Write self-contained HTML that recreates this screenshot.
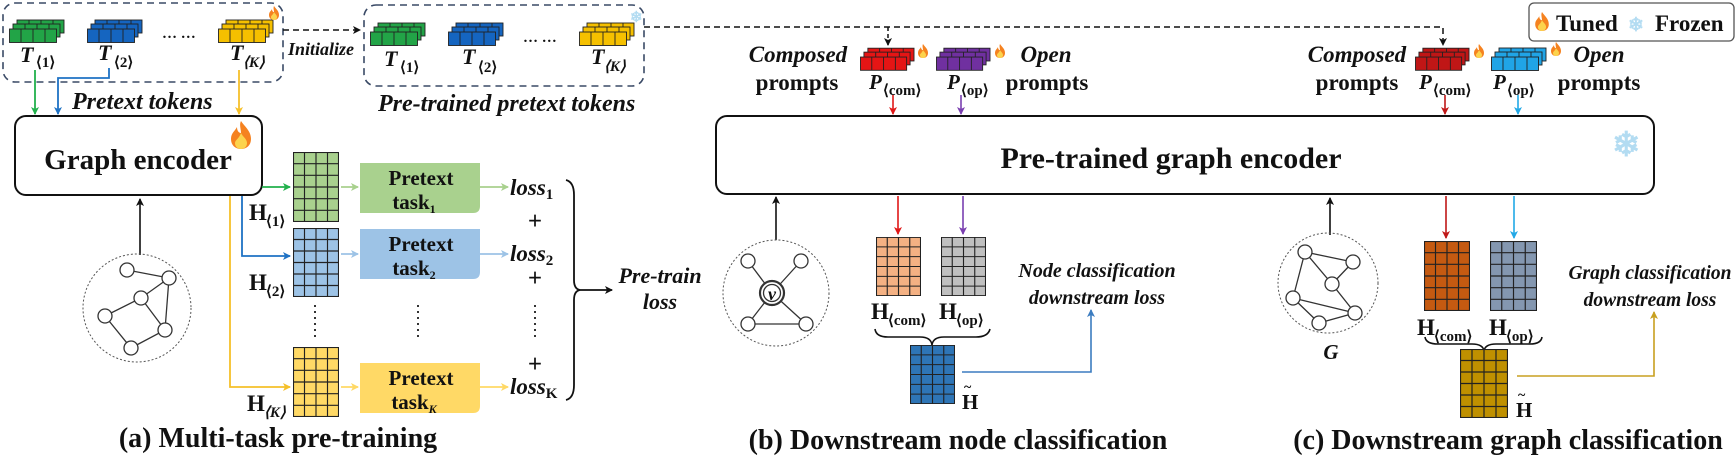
<!DOCTYPE html>
<html><head><meta charset="utf-8"><style>
html,body{margin:0;padding:0;background:#fff;}
svg{display:block;}
text{font-family:"Liberation Serif",serif;font-weight:bold;fill:#111;}
.it{font-style:italic;}
</style></head><body>
<svg width="1736" height="460" viewBox="0 0 1736 460" xmlns="http://www.w3.org/2000/svg">
<defs>
<symbol id="grid" viewBox="0 0 48 72" preserveAspectRatio="none">
<path d="M12 0V72M24 0V72M36 0V72M0 12H48M0 24H48M0 36H48M0 48H48M0 60H48" stroke="#222" stroke-width="1.2" fill="none"/>
<rect x="0.5" y="0.5" width="47" height="71" fill="none" stroke="#222" stroke-width="1.2"/>
</symbol>
<symbol id="tok" viewBox="0 0 56 24">
<g stroke="#222" stroke-width="0.9">
<rect x="8" y="1" width="47" height="13"/><path d="M20 1V14M32 1V14M44 1V14" fill="none"/>
<rect x="4" y="5" width="47" height="13"/><path d="M16 5V18M28 5V18M40 5V18" fill="none"/>
<rect x="0.5" y="10" width="47" height="13.5"/><path d="M12 10V23.5M24 10V23.5M36 10V23.5" fill="none"/>
</g>
</symbol>
<symbol id="flame" viewBox="0 0 10 14">
<path d="M5 0C7 3 10 5 10 9C10 12 8 14 5 14C2 14 0 12 0 9C0 6 2 5 3 3C3 5 4 6 5 6C5 4 4 2 5 0Z" fill="#f58220"/>
<path d="M5 6C6 8 8 9 8 11C8 13 6.5 14 5 14C3.5 14 2 13 2 11C2 9.5 4 9 5 6Z" fill="#fcd34d"/>
</symbol>
<marker id="ak" markerWidth="8" markerHeight="8" refX="7" refY="4" orient="auto" markerUnits="userSpaceOnUse"><path d="M0 0L8 4L0 8L2 4Z" fill="#111"/></marker>
<marker id="ag" markerWidth="8" markerHeight="8" refX="7" refY="4" orient="auto" markerUnits="userSpaceOnUse"><path d="M0 0L8 4L0 8L2 4Z" fill="#22b14c"/></marker>
<marker id="ab" markerWidth="8" markerHeight="8" refX="7" refY="4" orient="auto" markerUnits="userSpaceOnUse"><path d="M0 0L8 4L0 8L2 4Z" fill="#1f72c4"/></marker>
<marker id="ay" markerWidth="8" markerHeight="8" refX="7" refY="4" orient="auto" markerUnits="userSpaceOnUse"><path d="M0 0L8 4L0 8L2 4Z" fill="#f5c02a"/></marker>
<marker id="alg" markerWidth="8" markerHeight="8" refX="7" refY="4" orient="auto" markerUnits="userSpaceOnUse"><path d="M0 0L8 4L0 8L2 4Z" fill="#a9d18e"/></marker>
<marker id="alb" markerWidth="8" markerHeight="8" refX="7" refY="4" orient="auto" markerUnits="userSpaceOnUse"><path d="M0 0L8 4L0 8L2 4Z" fill="#9dc3e6"/></marker>
<marker id="aly" markerWidth="8" markerHeight="8" refX="7" refY="4" orient="auto" markerUnits="userSpaceOnUse"><path d="M0 0L8 4L0 8L2 4Z" fill="#ffd966"/></marker>
<marker id="ar" markerWidth="8" markerHeight="8" refX="7" refY="4" orient="auto" markerUnits="userSpaceOnUse"><path d="M0 0L8 4L0 8L2 4Z" fill="#e01818"/></marker>
<marker id="ap" markerWidth="8" markerHeight="8" refX="7" refY="4" orient="auto" markerUnits="userSpaceOnUse"><path d="M0 0L8 4L0 8L2 4Z" fill="#7a3fb0"/></marker>
<marker id="adr" markerWidth="8" markerHeight="8" refX="7" refY="4" orient="auto" markerUnits="userSpaceOnUse"><path d="M0 0L8 4L0 8L2 4Z" fill="#c01818"/></marker>
<marker id="ac" markerWidth="8" markerHeight="8" refX="7" refY="4" orient="auto" markerUnits="userSpaceOnUse"><path d="M0 0L8 4L0 8L2 4Z" fill="#22a8e6"/></marker>
<marker id="anb" markerWidth="8" markerHeight="8" refX="7" refY="4" orient="auto" markerUnits="userSpaceOnUse"><path d="M0 0L8 4L0 8L2 4Z" fill="#3b7cc0"/></marker>
<marker id="agd" markerWidth="8" markerHeight="8" refX="7" refY="4" orient="auto" markerUnits="userSpaceOnUse"><path d="M0 0L8 4L0 8L2 4Z" fill="#c8a020"/></marker>
</defs>

<!-- ===== (a) ===== -->
<rect x="3" y="3" width="280" height="79" rx="12" fill="none" stroke="#3a4a66" stroke-width="1.6" stroke-dasharray="7,5"/>
<use href="#tok" x="9" y="19" width="56" height="24" fill="#22a447"/>
<use href="#tok" x="87" y="19" width="56" height="24" fill="#1565c0"/>
<use href="#tok" x="217" y="19" width="58" height="24" fill="#f5c000"/>
<text x="162" y="38" font-size="15">… …</text>
<use href="#flame" x="269" y="6" width="10" height="14"/>
<text x="20" y="62" font-size="22" class="it">T</text><text x="36" y="67" font-size="15">⟨1⟩</text>
<text x="98" y="60" font-size="22" class="it">T</text><text x="114" y="67" font-size="15">⟨2⟩</text>
<text x="230" y="60" font-size="22" class="it">T</text><text x="243" y="67" font-size="15" class="it">⟨K⟩</text>
<path d="M283 30H360" stroke="#111" stroke-width="1.5" stroke-dasharray="6,4" fill="none" marker-end="url(#ak)"/>
<text x="288" y="55" font-size="18" class="it">Initialize</text>
<path d="M35 70V114" stroke="#22b14c" stroke-width="1.8" marker-end="url(#ag)"/>
<path d="M109 68V78H58V114" stroke="#1f72c4" stroke-width="1.8" fill="none" marker-end="url(#ab)"/>
<path d="M239 70V114" stroke="#f5c02a" stroke-width="1.8" marker-end="url(#ay)"/>
<text x="72" y="109" font-size="24" class="it">Pretext tokens</text>

<rect x="15" y="116" width="247" height="79" rx="11" fill="#fff" stroke="#111" stroke-width="2"/>
<text x="138" y="169" font-size="29" text-anchor="middle">Graph encoder</text>
<use href="#flame" x="230" y="121" width="22" height="28"/>
<path d="M140 255V199" stroke="#111" stroke-width="1.6" marker-end="url(#ak)"/>
<circle cx="137" cy="308" r="54" fill="none" stroke="#555" stroke-width="1" stroke-dasharray="2,2"/>
<g stroke="#333" stroke-width="1.3" fill="#fff">
<path d="M127 270L169 278L165 330L131 348L105 316L141 298L169 278M141 298L165 330M127 270" fill="none"/>
<circle cx="127" cy="270" r="7"/><circle cx="169" cy="278" r="7"/><circle cx="141" cy="298" r="7"/>
<circle cx="105" cy="316" r="7"/><circle cx="165" cy="330" r="7"/><circle cx="131" cy="348" r="7"/>
</g>

<path d="M262 187H290" stroke="#22b14c" stroke-width="1.8" marker-end="url(#ag)"/>
<path d="M242 196V256H290" stroke="#1f72c4" stroke-width="1.8" fill="none" marker-end="url(#ab)"/>
<path d="M230 196V387H290" stroke="#f5c02a" stroke-width="1.8" fill="none" marker-end="url(#ay)"/>

<rect x="293" y="152" width="46" height="70" fill="#a9d18e"/><use href="#grid" x="293" y="152" width="46" height="70"/>
<rect x="293" y="228" width="46" height="69" fill="#9dc3e6"/><use href="#grid" x="293" y="228" width="46" height="69"/>
<rect x="293" y="347" width="46" height="70" fill="#ffd966"/><use href="#grid" x="293" y="347" width="46" height="70"/>
<path d="M315 305V338M418 305V338M535 305V338" stroke="#333" stroke-width="2" stroke-dasharray="2,4"/>
<text x="249" y="220" font-size="23">H</text><text x="266" y="226" font-size="15">⟨1⟩</text>
<text x="249" y="290" font-size="23">H</text><text x="266" y="296" font-size="15">⟨2⟩</text>
<text x="247" y="411" font-size="23">H</text><text x="264" y="417" font-size="15" class="it">⟨K⟩</text>

<path d="M341 187H358" stroke="#a9d18e" stroke-width="1.8" marker-end="url(#alg)"/>
<path d="M341 254H358" stroke="#9dc3e6" stroke-width="1.8" marker-end="url(#alb)"/>
<path d="M341 387H358" stroke="#ffd966" stroke-width="1.8" marker-end="url(#aly)"/>
<path d="M360 163H480V206Q480 213 473 213H360Z" fill="#a9d18e"/>
<path d="M360 229H480V272Q480 279 473 279H360Z" fill="#9dc3e6"/>
<path d="M360 363H480V406Q480 413 473 413H360Z" fill="#ffd966"/>
<text x="421" y="185" font-size="21" text-anchor="middle">Pretext</text><text x="414" y="209" font-size="21" text-anchor="middle">task<tspan font-size="12" dy="4">1</tspan></text>
<text x="421" y="251" font-size="21" text-anchor="middle">Pretext</text><text x="414" y="275" font-size="21" text-anchor="middle">task<tspan font-size="12" dy="4">2</tspan></text>
<text x="421" y="385" font-size="21" text-anchor="middle">Pretext</text><text x="414" y="409" font-size="21" text-anchor="middle">task<tspan font-size="12" dy="4" class="it">K</tspan></text>
<path d="M480 187H508" stroke="#a9d18e" stroke-width="1.8" marker-end="url(#alg)"/>
<path d="M480 254H508" stroke="#9dc3e6" stroke-width="1.8" marker-end="url(#alb)"/>
<path d="M480 387H508" stroke="#ffd966" stroke-width="1.8" marker-end="url(#aly)"/>
<text x="510" y="195" font-size="23" class="it">loss<tspan font-size="15" dy="4" font-style="normal">1</tspan></text>
<text x="510" y="261" font-size="23" class="it">loss<tspan font-size="15" dy="4" font-style="normal">2</tspan></text>
<text x="510" y="394" font-size="23" class="it">loss<tspan font-size="15" dy="4" font-style="normal">K</tspan></text>
<text x="535" y="229" font-size="25" text-anchor="middle" font-weight="normal">+</text>
<text x="535" y="286" font-size="25" text-anchor="middle" font-weight="normal">+</text>
<text x="535" y="372" font-size="25" text-anchor="middle" font-weight="normal">+</text>
<path d="M566 180Q574 182 574 195V280Q574 289 580 290Q574 291 574 300V385Q574 398 566 400" fill="none" stroke="#111" stroke-width="1.8"/>
<path d="M580 290H612" stroke="#111" stroke-width="1.8" marker-end="url(#ak)"/>
<text x="660" y="283" font-size="22" class="it" text-anchor="middle">Pre-train</text>
<text x="660" y="309" font-size="22" class="it" text-anchor="middle">loss</text>
<text x="278" y="447" font-size="28" text-anchor="middle">(a) Multi-task pre-training</text>

<!-- pre-trained tokens -->
<rect x="364" y="5" width="280" height="81" rx="12" fill="none" stroke="#3a4a66" stroke-width="1.6" stroke-dasharray="7,5"/>
<use href="#tok" x="370" y="22" width="56" height="24" fill="#22a447"/>
<use href="#tok" x="448" y="22" width="56" height="24" fill="#1565c0"/>
<use href="#tok" x="578" y="22" width="58" height="24" fill="#f5c000"/>
<text x="523" y="42" font-size="15">… …</text>
<text x="630" y="22" font-size="15" style="fill:#b3dcf2">❄</text>
<text x="384" y="66" font-size="22" class="it">T</text><text x="400" y="72" font-size="15">⟨1⟩</text>
<text x="462" y="64" font-size="22" class="it">T</text><text x="478" y="72" font-size="15">⟨2⟩</text>
<text x="591" y="64" font-size="22" class="it">T</text><text x="604" y="71" font-size="15" class="it">⟨K⟩</text>
<text x="378" y="111" font-size="24" class="it">Pre-trained pretext tokens</text>
<path d="M644 27H1443V45" stroke="#111" stroke-width="1.5" stroke-dasharray="6,4" fill="none" marker-end="url(#ak)"/>
<path d="M888 27V45" stroke="#111" stroke-width="1.5" stroke-dasharray="4,3" fill="none" marker-end="url(#ak)"/>

<!-- legend -->
<rect x="1529" y="3" width="205" height="38" rx="5" fill="#fff" stroke="#555" stroke-width="1.3"/>
<use href="#flame" x="1535" y="12" width="14" height="19"/>
<text x="1556" y="31" font-size="23">Tuned</text>
<text x="1628" y="31" font-size="19" style="fill:#b3dcf2">❄</text>
<text x="1655" y="31" font-size="23">Frozen</text>

<!-- big encoder -->
<rect x="716" y="116" width="938" height="78" rx="11" fill="#fff" stroke="#111" stroke-width="2"/>
<text x="1171" y="168" font-size="30" text-anchor="middle">Pre-trained graph encoder</text>
<text x="1612" y="156" font-size="34" style="fill:#b3dcf2">❄</text>

<!-- (b) prompts -->
<text x="798" y="62" font-size="23" class="it" text-anchor="middle">Composed</text>
<text x="797" y="90" font-size="23" text-anchor="middle">prompts</text>
<use href="#tok" x="860" y="47" width="55" height="24" fill="#e51515"/>
<use href="#flame" x="918" y="44" width="10" height="14"/>
<use href="#tok" x="936" y="47" width="55" height="24" fill="#7030a0"/>
<use href="#flame" x="995" y="44" width="10" height="14"/>
<text x="869" y="89" font-size="21" class="it">P</text><text x="883" y="95" font-size="15">⟨com⟩</text>
<text x="947" y="89" font-size="21" class="it">P</text><text x="961" y="95" font-size="15">⟨op⟩</text>
<text x="1046" y="62" font-size="23" class="it" text-anchor="middle">Open</text>
<text x="1047" y="90" font-size="23" text-anchor="middle">prompts</text>
<path d="M893 95V114" stroke="#e01818" stroke-width="1.6" marker-end="url(#ar)"/>
<path d="M961 95V114" stroke="#7a3fb0" stroke-width="1.6" marker-end="url(#ap)"/>

<path d="M776 240V197" stroke="#111" stroke-width="1.6" marker-end="url(#ak)"/>
<circle cx="776" cy="293" r="53" fill="none" stroke="#555" stroke-width="1" stroke-dasharray="2,2"/>
<g stroke="#333" stroke-width="1.3" fill="#fff">
<path d="M748 261L772 293L801 261M772 293L748 324H806L772 293" fill="none"/>
<circle cx="748" cy="261" r="7"/><circle cx="801" cy="261" r="7"/><circle cx="748" cy="324" r="7"/><circle cx="806" cy="324" r="7"/>
<circle cx="772" cy="293" r="12" stroke-width="2.2"/><circle cx="772" cy="293" r="8.5"/>
</g>
<text x="772" y="300" font-size="18" class="it" text-anchor="middle" font-weight="normal">v</text>

<path d="M898 196V234" stroke="#e01818" stroke-width="1.6" marker-end="url(#ar)"/>
<path d="M963 196V234" stroke="#7a3fb0" stroke-width="1.6" marker-end="url(#ap)"/>
<rect x="876" y="237" width="45" height="59" fill="#f4b183"/><use href="#grid" x="876" y="237" width="45" height="59"/>
<rect x="941" y="237" width="45" height="59" fill="#c0c0c0"/><use href="#grid" x="941" y="237" width="45" height="59"/>
<text x="871" y="319" font-size="23">H</text><text x="888" y="325" font-size="15">⟨com⟩</text>
<text x="939" y="319" font-size="23">H</text><text x="956" y="325" font-size="15">⟨op⟩</text>
<path d="M875 329Q876 337 888 337H920Q931 337 932 345Q933 337 944 337H976Q988 337 990 329" fill="none" stroke="#111" stroke-width="1.6"/>
<rect x="910" y="345" width="45" height="59" fill="#2e75b6"/><use href="#grid" x="910" y="345" width="45" height="59"/>
<text x="962" y="409" font-size="21">H</text><text x="964" y="391" font-size="14">~</text>
<path d="M962 372H1091V310" stroke="#3b7cc0" stroke-width="1.6" fill="none" marker-end="url(#anb)"/>
<text x="1097" y="277" font-size="20" class="it" text-anchor="middle">Node classification</text>
<text x="1097" y="304" font-size="20" class="it" text-anchor="middle">downstream loss</text>
<text x="958" y="449" font-size="28" text-anchor="middle">(b) Downstream node classification</text>

<!-- (c) prompts -->
<text x="1357" y="62" font-size="23" class="it" text-anchor="middle">Composed</text>
<text x="1357" y="90" font-size="23" text-anchor="middle">prompts</text>
<use href="#tok" x="1415" y="47" width="55" height="24" fill="#c01616"/>
<use href="#flame" x="1474" y="44" width="10" height="14"/>
<use href="#tok" x="1490" y="47" width="58" height="24" fill="#20a4e6"/>
<use href="#flame" x="1551" y="42" width="10" height="14"/>
<text x="1419" y="89" font-size="21" class="it">P</text><text x="1433" y="95" font-size="15">⟨com⟩</text>
<text x="1493" y="89" font-size="21" class="it">P</text><text x="1507" y="95" font-size="15">⟨op⟩</text>
<text x="1599" y="62" font-size="23" class="it" text-anchor="middle">Open</text>
<text x="1599" y="90" font-size="23" text-anchor="middle">prompts</text>
<path d="M1445 95V114" stroke="#c01818" stroke-width="1.6" marker-end="url(#adr)"/>
<path d="M1518 95V114" stroke="#22a8e6" stroke-width="1.6" marker-end="url(#ac)"/>

<path d="M1330 235V198" stroke="#111" stroke-width="1.6" marker-end="url(#ak)"/>
<ellipse cx="1328" cy="283" rx="50" ry="50" fill="none" stroke="#555" stroke-width="1" stroke-dasharray="2,2"/>
<g stroke="#333" stroke-width="1.3" fill="#fff">
<path d="M1305 252L1353 262L1332 284L1305 252M1353 262L1332 284L1355 313L1319 323L1293 298L1305 252M1293 298L1355 313" fill="none"/>
<circle cx="1305" cy="252" r="7"/><circle cx="1353" cy="262" r="7"/><circle cx="1332" cy="284" r="7"/>
<circle cx="1293" cy="298" r="7"/><circle cx="1355" cy="313" r="7"/><circle cx="1319" cy="323" r="7"/>
</g>
<text x="1331" y="359" font-size="21" class="it" text-anchor="middle">G</text>

<path d="M1446 196V238" stroke="#c01818" stroke-width="1.6" marker-end="url(#adr)"/>
<path d="M1514 196V238" stroke="#22a8e6" stroke-width="1.6" marker-end="url(#ac)"/>
<rect x="1424" y="241" width="46" height="70" fill="#c55a11"/><use href="#grid" x="1424" y="241" width="46" height="70"/>
<rect x="1490" y="241" width="47" height="70" fill="#8497b0"/><use href="#grid" x="1490" y="241" width="47" height="70"/>
<text x="1417" y="335" font-size="23">H</text><text x="1434" y="341" font-size="15">⟨com⟩</text>
<text x="1489" y="335" font-size="23">H</text><text x="1506" y="341" font-size="15">⟨op⟩</text>
<path d="M1425 337Q1426 344 1438 344H1472Q1483 344 1484 351Q1485 344 1496 344H1530Q1541 344 1542 337" fill="none" stroke="#111" stroke-width="1.6"/>
<rect x="1460" y="349" width="48" height="69" fill="#bf9000"/><use href="#grid" x="1460" y="349" width="48" height="69"/>
<text x="1516" y="417" font-size="21">H</text><text x="1518" y="399" font-size="14">~</text>
<path d="M1517 376H1654V312" stroke="#c8a020" stroke-width="1.6" fill="none" marker-end="url(#agd)"/>
<text x="1650" y="279" font-size="19.5" class="it" text-anchor="middle">Graph classification</text>
<text x="1650" y="306" font-size="19.5" class="it" text-anchor="middle">downstream loss</text>
<text x="1508" y="449" font-size="28" text-anchor="middle">(c) Downstream graph classification</text>
</svg>
</body></html>
